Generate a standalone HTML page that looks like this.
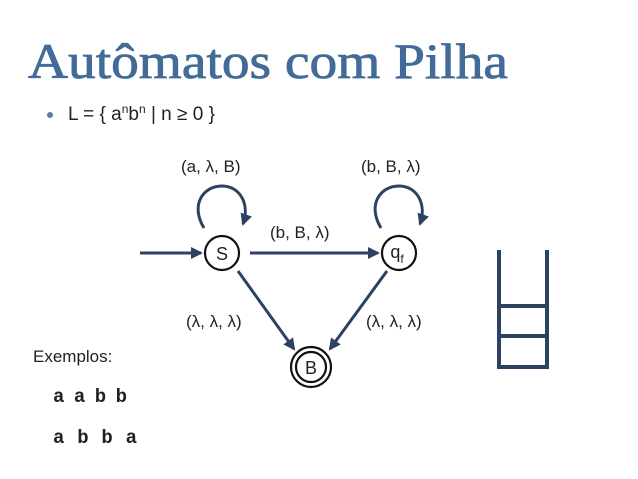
<!DOCTYPE html>
<html><head><meta charset="utf-8"><style>
html,body{margin:0;padding:0;background:#fff;}
svg{display:block}
</style></head><body>
<svg width="638" height="479" viewBox="0 0 638 479" xmlns="http://www.w3.org/2000/svg">
<defs>
<marker id="ah" markerWidth="12" markerHeight="12" refX="10" refY="6" orient="auto" markerUnits="userSpaceOnUse">
<path d="M0,0 L12,6 L0,12 z" fill="#2b4260"/>
</marker>
</defs>
<text x="28" y="78" font-family="Liberation Serif, serif" font-size="50" fill="#436b98" stroke="#436b98" stroke-width="0.8" textLength="480" lengthAdjust="spacingAndGlyphs">Autômatos com Pilha</text>
<circle cx="50" cy="115" r="3" fill="#5a7ea6"/>
<text x="68" y="120" font-family="Liberation Sans, sans-serif" font-size="19" fill="#222">L = { a<tspan font-size="12" dy="-7">n</tspan><tspan dy="7">b</tspan><tspan font-size="12" dy="-7">n</tspan><tspan dy="7"> | n ≥ 0 }</tspan></text>

<g font-family="Liberation Sans, sans-serif" font-size="17" fill="#222">
<text x="181" y="172">(a, λ, B)</text>
<text x="361" y="172">(b, B, λ)</text>
<text x="270" y="238">(b, B, λ)</text>
<text x="186" y="327">(λ, λ, λ)</text>
<text x="366" y="327">(λ, λ, λ)</text>
<text x="33" y="362">Exemplos:</text>
</g>
<g font-family="Liberation Mono, monospace" font-size="19" font-weight="bold" fill="#222">
<text x="53" y="402" textLength="74" lengthAdjust="spacing">a a b b</text>
<text x="53" y="443" textLength="84" lengthAdjust="spacing">a b b a</text>
</g>

<g stroke="#2b4260" stroke-width="3" fill="none">
<line x1="140" y1="253" x2="201" y2="253" marker-end="url(#ah)"/>
<line x1="250" y1="253" x2="378" y2="253" marker-end="url(#ah)"/>
<line x1="238" y1="271" x2="294" y2="349" marker-end="url(#ah)"/>
<line x1="387" y1="271" x2="330" y2="349" marker-end="url(#ah)"/>
<path d="M204,228 C190,205 203,186 222,186 C240,186 250,204 243,224" marker-end="url(#ah)"/>
<path d="M381,228 C367,205 380,186 399,186 C417,186 427,204 420,224" marker-end="url(#ah)"/>
</g>
<g stroke="#111" stroke-width="2.2" fill="#fff">
<circle cx="222" cy="253" r="17"/>
<circle cx="399" cy="253" r="17"/>
<circle cx="311" cy="367" r="20"/>
<circle cx="311" cy="367" r="15"/>
</g>
<g font-family="Liberation Sans, sans-serif" font-size="18" fill="#222" text-anchor="middle">
<text x="222" y="260">S</text>
<text x="397" y="258">q<tspan font-size="12" dy="5">f</tspan></text>
<text x="311" y="374">B</text>
</g>

<g stroke="#2b4260" stroke-width="4" fill="none">
<path d="M499,250 L499,367 L547,367 L547,250"/>
<line x1="499" y1="306" x2="547" y2="306"/>
<line x1="499" y1="336" x2="547" y2="336"/>
</g>
</svg>
</body></html>
